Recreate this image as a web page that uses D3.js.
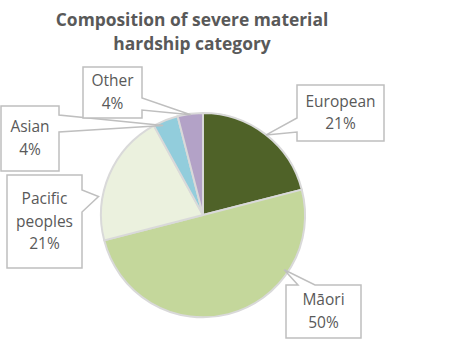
<!DOCTYPE html>
<html><head><meta charset="utf-8">
<script src="https://cdn.jsdelivr.net/npm/d3@7"></script>
<style>body{margin:0;background:#fff}svg{display:block}</style>
</head><body>
<svg id="c" width="450" height="355"></svg>
<script>
const categories = ["European", "Māori", "Pacific peoples", "Asian", "Other"];
const values = [21, 50, 21, 4, 4];
const labelLines = [["European", "21%"], ["Māori", "50%"], ["Pacific", "peoples", "21%"], ["Asian", "4%"], ["Other", "4%"]];
const colors = ["#4f6228", "#c4d79b", "#ebf1de", "#92cddc", "#b3a2c7"];
const titleLines = ["Composition of severe material", "hardship category"];

// layout of callouts: box [x0,y0,x1,y1], tip (angle deg, radius factor), wedge side and range
const callouts = [
  {box:[297,85,384,141], tip:[38.3,1.0], side:"left", w:[118,132]},
  {box:[286,285,361,338], tip:[124,0.96], side:"top", w:[298,315]},
  {box:[7,175,82,268], tip:[280,1.04], side:"right", w:[190,212]},
  {box:[1,106,59,171], tip:[336,0.96], side:"right", w:[115,132]},
  {box:[83,67,142,118], tip:[353,0.99], side:"right", w:[98,110]}
];

const svg = d3.select("#c");
const cx = 203, cy = 215, R = 102;

svg.append("g").selectAll("text").data(titleLines).join("text")
  .attr("x", 192).attr("y", (d,i)=>26 + i*24)
  .attr("text-anchor","middle")
  .attr("font-family","'Open Sans', sans-serif").attr("font-weight","bold")
  .attr("font-size",17.4).attr("fill","#595959").text(d=>d);

const pie = d3.pie().value(d=>d).sort(null);
const arcs = pie(values);
const arc = d3.arc().innerRadius(0).outerRadius(R);
const g = svg.append("g").attr("transform",`translate(${cx},${cy})`);
g.selectAll("path").data(arcs).join("path")
  .attr("d", arc).attr("fill",(d,i)=>colors[i])
  .attr("stroke","#d9d9d9").attr("stroke-width",2).attr("stroke-linejoin","round");

const cg = svg.append("g");
callouts.forEach((c,i)=>{
  const [x0,y0,x1,y1] = c.box;
  const a = c.tip[0]*Math.PI/180, r = R*c.tip[1];
  const tx = cx + r*Math.sin(a), ty = cy - r*Math.cos(a);
  let pts;
  if (c.side==="left") pts=[[x0,y0],[x1,y0],[x1,y1],[x0,y1],[x0,c.w[1]],[tx,ty],[x0,c.w[0]]];
  else if (c.side==="right") pts=[[x0,y0],[x1,y0],[x1,c.w[0]],[tx,ty],[x1,c.w[1]],[x1,y1],[x0,y1]];
  else pts=[[x0,y0],[c.w[0],y0],[tx,ty],[c.w[1],y0],[x1,y0],[x1,y1],[x0,y1]];
  cg.append("path").attr("d", d3.line()(pts)+"Z")
    .attr("fill","#fff").attr("stroke","#bfbfbf").attr("stroke-width",1.5);
  const lines = labelLines[i];
  const lh = 22.5;
  const mid = (y0+y1)/2;
  const start = mid - (lines.length-1)*lh/2 + 5;
  cg.append("g").selectAll("text").data(lines).join("text")
    .attr("x",(x0+x1)/2).attr("y",(d,j)=>start + j*lh)
    .attr("text-anchor","middle")
    .attr("font-family","'Open Sans', sans-serif").attr("font-size",15.5)
    .attr("fill","#595959").text(d=>d);
});
</script>
</body></html>
